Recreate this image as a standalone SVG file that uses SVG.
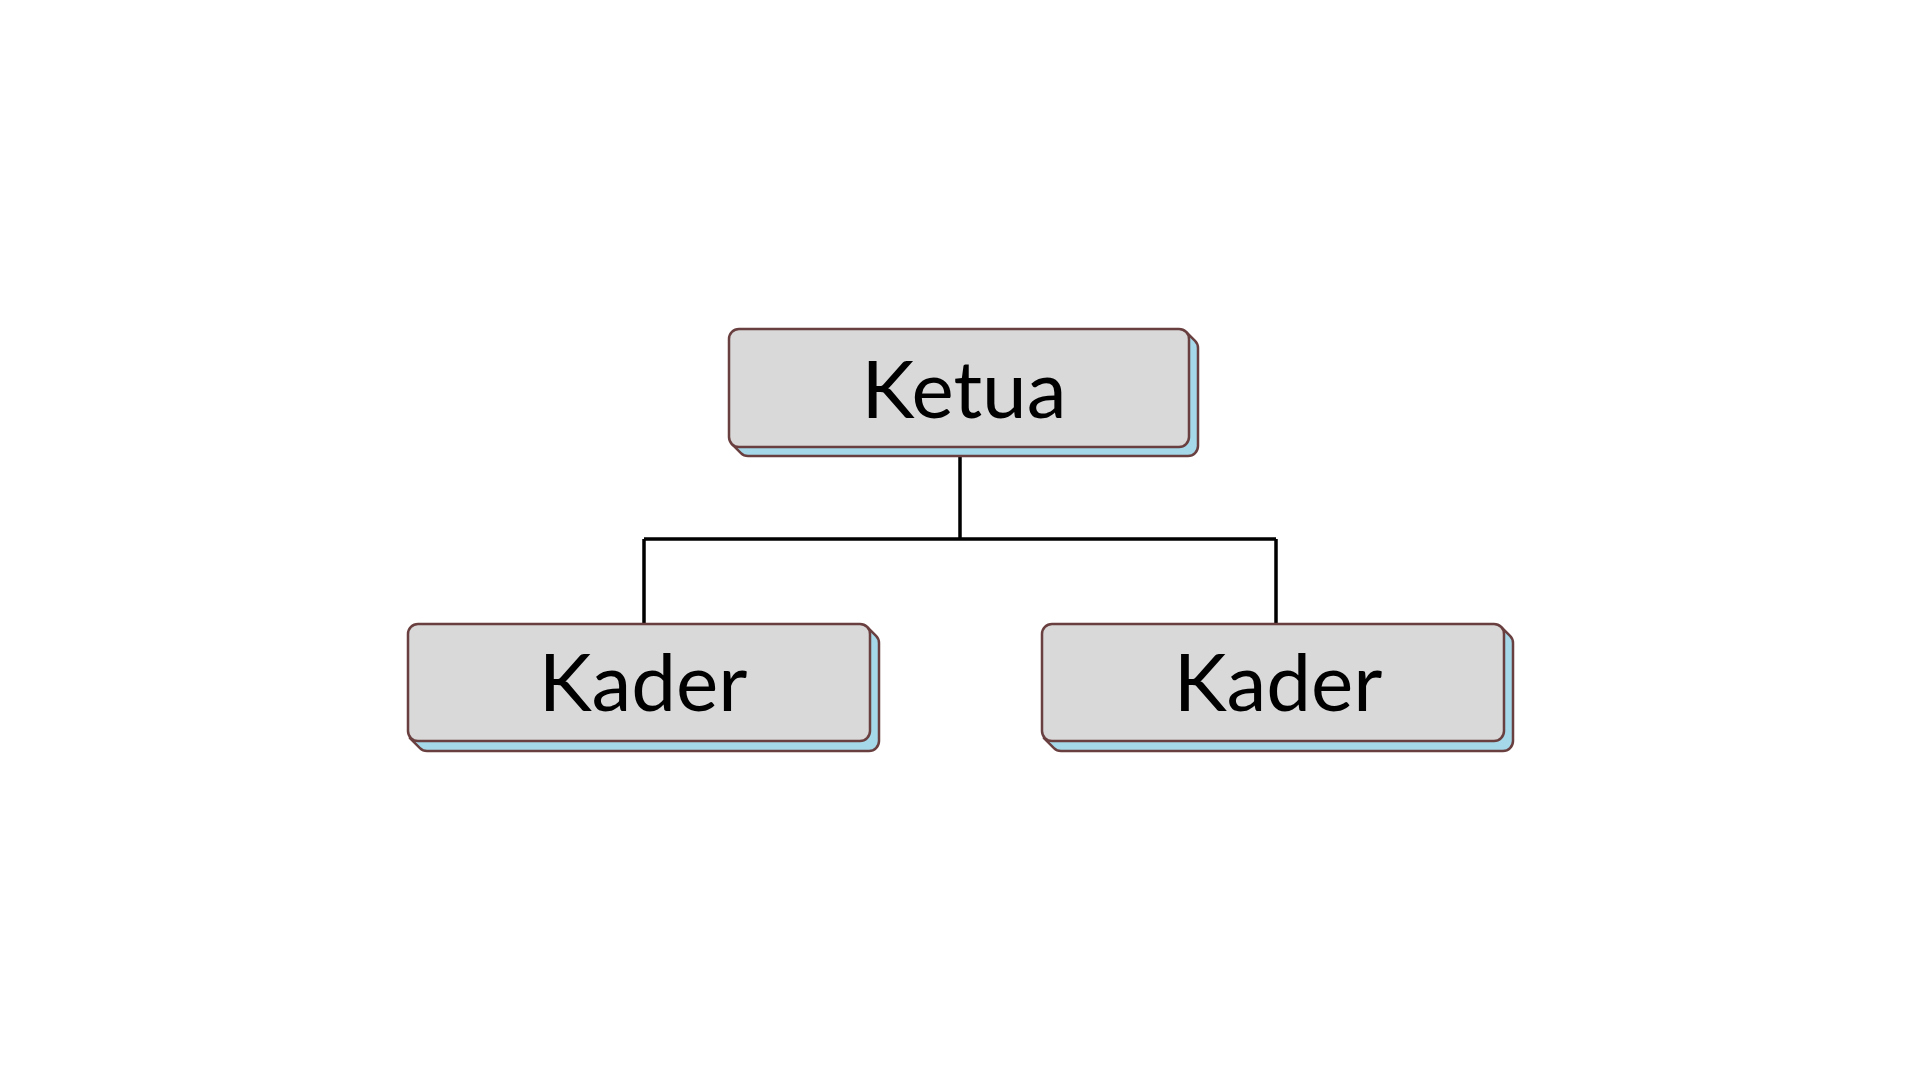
<svg xmlns="http://www.w3.org/2000/svg" width="1920" height="1080" viewBox="0 0 1920 1080">
<style>
.box{fill:#d9d9d9;stroke:#6a3f3f;stroke-width:2.5}
.sh{fill:#a5d8e8;stroke:#6a3f3f;stroke-width:2.5;stroke-linejoin:round}
.lbl{font-family:Lato,"Liberation Sans",sans-serif;font-size:80px;fill:#000;text-anchor:middle}
.con{fill:none;stroke:#000;stroke-width:3.5}
</style>
<rect width="1920" height="1080" fill="#fff"/>
<g id="connectors">
<path class="con" d="M960 457 V539 M644 539 H1276 M644 539 V624 M1276 539 V624"/>
</g>
<g id="node-ketua">
<path class="sh" d="M1186.07 331.93 L1195.07 340.93 A10 10 0 0 1 1198 348 V446 A10 10 0 0 1 1188 456 H748 A10 10 0 0 1 740.93 453.07 L731.93 444.07 Z"/>
<rect class="box" x="729" y="329" width="460" height="118" rx="10"/>
<text class="lbl" x="964" y="418">Ketua</text>
</g>
<g id="node-kader-left">
<path class="sh" d="M867.07 626.93 L876.07 635.93 A10 10 0 0 1 879 643 V741 A10 10 0 0 1 869 751 H427 A10 10 0 0 1 419.93 748.07 L409.93 738.07 Z"/>
<rect class="box" x="408" y="624" width="462" height="117" rx="10"/>
<text class="lbl" x="643" y="711">Kader</text>
</g>
<g id="node-kader-right">
<path class="sh" d="M1501.07 626.93 L1510.07 635.93 A10 10 0 0 1 1513 643 V741 A10 10 0 0 1 1503 751 H1061 A10 10 0 0 1 1053.93 748.07 L1043.93 738.07 Z"/>
<rect class="box" x="1042" y="624" width="462" height="117" rx="10"/>
<text class="lbl" x="1278" y="711">Kader</text>
</g>
</svg>
